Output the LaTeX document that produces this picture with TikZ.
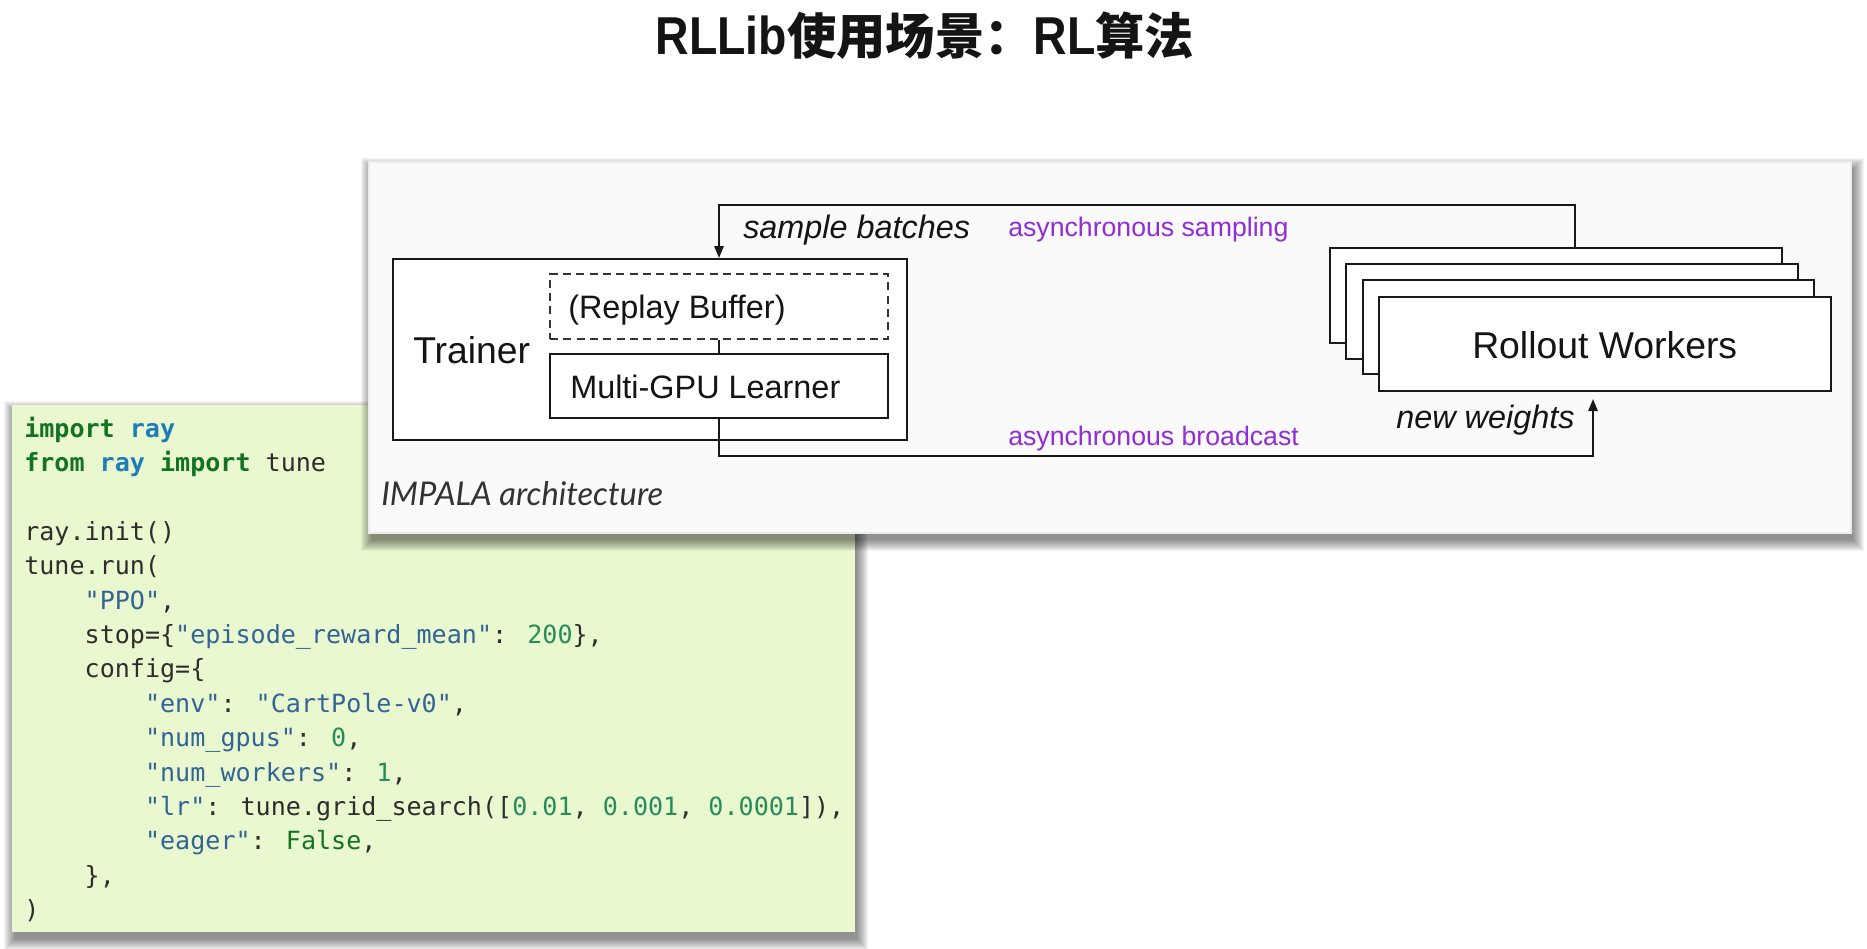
\documentclass[tikz,border=0pt]{standalone}
\usepackage{fontspec}
\setmainfont{Liberation Sans}
\newfontfamily\cjk{Noto Sans CJK SC}
\newfontfamily\titlelatin{Liberation Sans}[FakeStretch=0.87]
\newfontfamily\codefont{DejaVu Sans Mono}
\newfontfamily\lato{Lato}
\usetikzlibrary{arrows.meta,fit,calc}
\definecolor{codebg}{RGB}{233,248,206}
\definecolor{kwgreen}{RGB}{20,115,35}
\definecolor{nsblue}{RGB}{30,125,185}
\definecolor{strblue}{RGB}{50,100,150}
\definecolor{numgreen}{RGB}{40,140,90}
\definecolor{codetext}{RGB}{45,45,45}
\definecolor{purp}{RGB}{145,45,215}
\definecolor{panelbg}{RGB}{250,250,250}
\newcommand{\ckw}[1]{{\color{kwgreen}\bfseries #1}}
\newcommand{\cns}[1]{{\color{nsblue}\bfseries #1}}
\newcommand{\cstr}[1]{{\color{strblue}#1}}
\newcommand{\cnum}[1]{{\color{numgreen}#1}}
\newcommand{\ckc}[1]{{\color{kwgreen}#1}}
\tikzset{
  box/.style={draw=black!90, line width=1.5pt, inner sep=0pt},
  wbox/.style={box, fill=white},
  dbox/.style={draw=black!80, line width=1.5pt, inner sep=0pt, dash pattern=on 6pt off 4pt},
  conn/.style={draw=black!90, line width=1.5pt},
  arr/.style={conn, -{Triangle[length=9pt,width=7pt]}},
  lbl/.style={inner sep=0pt, anchor=base west, text=black!92},
  biglbl/.style={lbl, font=\fontsize{28}{32}\selectfont},
  midlbl/.style={lbl, font=\fontsize{24.3}{28}\selectfont},
  itlbl/.style={lbl, font=\fontsize{24.3}{28}\selectfont\itshape},
  purlbl/.style={lbl, text=purp, font=\fontsize{20}{24}\selectfont},
  codeline/.style={inner sep=0pt, anchor=base west, text=codetext, font=\codefont\fontsize{18.8}{22}\selectfont},
}
\newcommand{\softshadow}[4]{%
  \foreach \s in {1,...,12} {
    \fill[black, opacity=0.045] ({#1-\s+4},{#2-\s+8}) rectangle ({#3+\s+1},{#4+\s+6});
  }%
}
\begin{document}
\begin{tikzpicture}[x=0.75pt,y=-0.75pt]
\fill[white] (0,0) rectangle (1867,949);
\useasboundingbox (0,0) rectangle (1867,949);

% title
\node[inner sep=0pt, anchor=base, text=black!92] (title) at (925,55)
  {{\titlelatin\bfseries\fontsize{40}{46}\selectfont RLLib}{\cjk\bfseries\fontsize{37}{46}\selectfont 使用场景：}{\titlelatin\bfseries\fontsize{40}{46}\selectfont RL}{\cjk\bfseries\fontsize{37}{46}\selectfont 算法}};

% code panel
\softshadow{12}{405}{855}{932}
\node[fill=codebg, inner sep=0pt, fit={(12,405) (855,932)}] (codepanel) {};
\node[codeline] (c0) at (24,437.0) {\ckw{import} \cns{ray}};
\node[codeline] (c1) at (24,471.4) {\ckw{from} \cns{ray} \ckw{import} tune};
\node[codeline] (c3) at (24,540.2) {ray.init()};
\node[codeline] (c4) at (24,574.6) {tune.run(};
\node[codeline] (c5) at (84.4,609.0) {\cstr{"PPO"},};
\node[codeline] (c6) at (84.4,643.4) {stop=\{\cstr{"episode\_reward\_mean"}: \cnum{200}\},};
\node[codeline] (c7) at (84.4,677.8) {config=\{};
\node[codeline] (c8) at (144.8,712.2) {\cstr{"env"}: \cstr{"CartPole-v0"},};
\node[codeline] (c9) at (144.8,746.6) {\cstr{"num\_gpus"}: \cnum{0},};
\node[codeline] (c10) at (144.8,781.0) {\cstr{"num\_workers"}: \cnum{1},};
\node[codeline] (c11) at (144.8,815.4) {\cstr{"lr"}: tune.grid\_search([\cnum{0.01}, \cnum{0.001}, \cnum{0.0001}]),};
\node[codeline] (c12) at (144.8,849.8) {\cstr{"eager"}: \ckc{False},};
\node[codeline] (c13) at (84.4,884.2) {\},};
\node[codeline] (c14) at (24,918.6) {)};

% IMPALA panel
\softshadow{369}{162}{1851}{533}
\node[fill=panelbg, draw=black!8, line width=0.8pt, inner sep=0pt, fit={(369,162) (1851,533)}] (panel) {};

% trainer
\node[wbox, fit={(393,259) (907,440)}] (trainer) {};
\node[dbox, fit={(550,274) (888,339)}] (replay) {};
\node[wbox, fit={(550,354) (888,418)}] (learner) {};
\draw[conn] (replay.south) -- (learner.north);
\node[biglbl] (trainerlbl) at (413,363) {Trainer};
\node[midlbl] (replaylbl) at (568,318) {(Replay Buffer)};
\node[midlbl] (learnerlbl) at (570,398) {Multi-GPU Learner};

% rollout workers
\node[wbox, fit={(1330,248) (1782,343)}] (rw1) {};
\node[wbox, fit={(1346,264) (1798,359)}] (rw2) {};
\node[wbox, fit={(1363,280) (1814,374)}] (rw3) {};
\node[wbox, fit={(1379,297) (1831,391)}] (rw4) {};
\node[biglbl] (rwlbl) at (1472,358) {Rollout Workers};

% connectors
\coordinate (sb) at (1575,205);
\draw[arr] (rw1.north -| sb) -- (sb) -| (trainer.north -| learner.north);
\coordinate (bc) at (1593,456);
\coordinate (nwtip) at (1593,399);
\draw[arr] (learner.south) |- (bc) -- (nwtip);

% labels
\node[itlbl] (sblbl) at (743,238) {sample batches};
\node[purlbl] (aslbl) at (1008,236) {asynchronous sampling};
\node[itlbl] (nwlbl) at (1396,428) {new weights};
\node[purlbl] (ablbl) at (1008,445) {asynchronous broadcast};
\node[inner sep=0pt, anchor=base west, text=black!80, font=\lato\itshape\fontsize{24.5}{28}\selectfont] (impala) at (381,505) {IMPALA architecture};
\end{tikzpicture}
\end{document}
